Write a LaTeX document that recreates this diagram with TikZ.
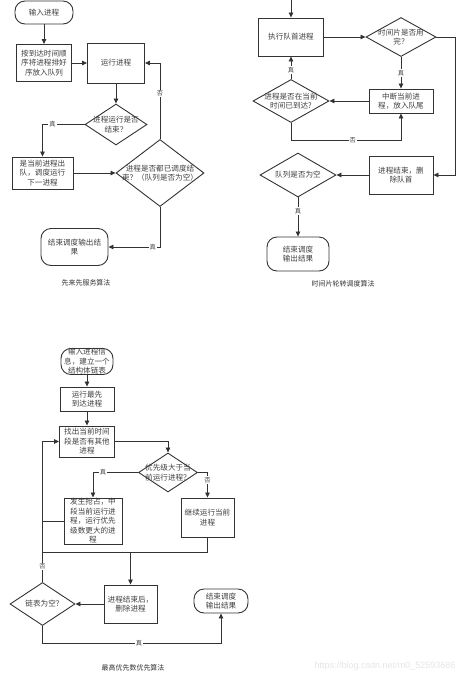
\documentclass[tikz,border=0pt]{standalone}
\usepackage{fontspec}
\setmainfont{Noto Sans CJK SC}
\newfontfamily\markfont{Liberation Sans}
\usetikzlibrary{shapes.geometric,arrows.meta}
\tikzset{
  base/.style={draw=black!80, line width=0.9pt, text=black!75, align=center, inner sep=0pt,
    font=\fontsize{7.6}{9.5}\selectfont},
  box/.style={base, rectangle},
  terminal/.style={base, rectangle, rounded corners=10pt},
  decision/.style={base, diamond},
  every label/.style={align=center, inner sep=0pt, text=black!75, font=\fontsize{7.6}{9.5}\selectfont},
  flow/.style={draw=black!80, line width=0.8pt, -{Triangle[length=5pt,width=4.5pt]}},
  link/.style={draw=black!80, line width=0.8pt},
  tag/.style={fill=white, inner sep=1pt, text=black!75, font=\fontsize{6.2}{6.2}\selectfont},
  algname/.style={text=black!80, font=\fontsize{7}{8}\selectfont}
}

\begin{document}
\begin{tikzpicture}[x=1pt, y=-1pt]
			\useasboundingbox (0,0) rectangle (474,681);
			% first come first served
			\node[terminal, minimum width=58pt, minimum height=23pt] (in1) at (44,12.5) {输入进程};
			\node[box, minimum width=55pt, minimum height=37pt] (sort1) at (44,63) {按到达时间顺\\序将进程排好\\序放入队列};
			\node[box, minimum width=57pt, minimum height=40pt] (run1) at (116,63) {运行进程};
			\node[decision, minimum width=62pt, minimum height=41pt, label={center:{进程运行是否\\结束？}}] (d1) at (116,124.5) {};
			\node[box, minimum width=61pt, minimum height=32pt] (next1) at (42.5,173) {是当前进程出\\队，调度运行\\下一进程};
			\node[decision, minimum width=88pt, minimum height=67pt, label={center:{进程是否都已调度结\\束？（队列是否为空）}}] (d2) at (160,173) {};
			\node[terminal, minimum width=67pt, minimum height=37pt] (end1) at (74.5,247) {结束调度输出结\\果};
			\node[algname] (cap1) at (86,283) {先来先服务算法};
			\draw[flow] (in1) -- (sort1);
			\draw[flow] (sort1) -- (run1);
			\draw[flow] (run1) -- (d1);
			\draw[flow] (d1.west) -| node[tag, pos=0.38] {真} (next1.north);
			\draw[flow] (next1) -- (d2);
			\draw[flow] (d2.north) |- node[tag, pos=0.3] {否} (run1.east);
			\draw[flow] (d2.south) |- node[tag, pos=0.57] {真} (end1.east);
			% round robin
			\coordinate (rrtop) at (291,0);
			\node[box, minimum width=65pt, minimum height=38pt] (exec2) at (291,37) {执行队首进程};
			\node[decision, minimum width=70pt, minimum height=39pt, label={center:{时间片是否用\\完？}}] (slice2) at (401,37) {};
			\node[box, minimum width=64pt, minimum height=24pt] (intr2) at (401,101) {中断当前进\\程，放入队尾};
			\node[decision, minimum width=76pt, minimum height=43pt, label={center:{进程是否在当前\\时间已到达?}}] (arr2) at (291,101) {};
			\node[box, minimum width=64pt, minimum height=38pt] (done2) at (401,175) {进程结束，删\\除队首};
			\node[decision, minimum width=76pt, minimum height=44pt, label={center:{队列是否为空}}] (empty2) at (298,175) {};
			\node[terminal, minimum width=62pt, minimum height=34pt] (end2) at (298,254) {结束调度\\输出结果};
			\node[algname] (cap2) at (343,284) {时间片轮转调度算法};
			\draw[flow] (rrtop) -- (exec2);
			\draw[flow] (exec2) -- (slice2);
			\draw[flow] (slice2.east) -- ++(19,0) |- (done2.east);
			\draw[flow] (slice2) -- node[tag] {真} (intr2);
			\draw[flow] (intr2) -- (arr2);
			\draw[flow] (arr2) -- node[tag, pos=0.4] {真} (exec2);
			\draw[flow] (arr2.south) -- ++(0,17) -| node[tag, pos=0.28] {否} (intr2.south);
			\draw[flow] (done2) -- (empty2);
			\draw[flow] (empty2) -- node[tag, pos=0.35] {真} (end2);
			% highest priority first
			\node[terminal, minimum width=52pt, minimum height=23pt] (start3) at (87,361.5) {输入进程信\\息，建立一个\\结构体链表};
			\node[box, minimum width=54pt, minimum height=24pt] (first3) at (87,399) {运行最先\\到达进程};
			\node[box, minimum width=55pt, minimum height=31pt] (find3) at (87,441.5) {找出当前时间\\段是否有其他\\进程};
			\node[decision, minimum width=59pt, minimum height=39pt, label={center:{优先级大于当\\前运行进程？}}] (prio3) at (168,472.5) {};
			\node[box, minimum width=58pt, minimum height=46pt] (pre3) at (93,521) {发生抢占，中\\段当前运行进\\程，运行优先\\级数更大的进\\程};
			\node[box, minimum width=53pt, minimum height=39pt] (cont3) at (207.5,517.5) {继续运行当前\\进程};
			\coordinate (join3) at (130.5,552);
			\node[box, minimum width=53pt, minimum height=38pt] (del3) at (130.5,604) {进程结束后，\\删除进程};
			\node[decision, minimum width=65pt, minimum height=43pt, label={center:{链表为空?}}] (empty3) at (42.5,604) {};
			\node[terminal, minimum width=54pt, minimum height=24pt] (end3) at (221,601) {结束调度\\输出结果};
			\node[algname] (cap3) at (133,668) {最高优先数优先算法};
			\draw[flow] (start3) -- (first3);
			\draw[flow] (first3) -- (find3);
			\draw[flow] (find3.east) -| (prio3.north);
			\draw[flow] (prio3.west) -| node[tag, pos=0.39] {真} (pre3.north);
			\draw[flow] (prio3.east) -| node[tag, pos=0.65] {否} (cont3.north);
			\draw[flow] (empty3.north) |- node[tag, pos=0.055] {否} (find3.west);
			\draw[link] (pre3.west) -- (pre3.west -| empty3);
			\draw[link] (cont3.south) |- (join3 -| empty3);
			\draw[flow] (join3) -- (del3);
			\draw[flow] (del3) -- (empty3);
			\draw[flow] (empty3.south) -- ++(0,17) -| node[tag, pos=0.27] {真} (end3.south);
			\node[text=black!10, font=\markfont\fontsize{9}{9}\selectfont] (mark) at (385,666) {https://blog.csdn.net/m0\_52593686};
		\end{tikzpicture}
\end{document}
